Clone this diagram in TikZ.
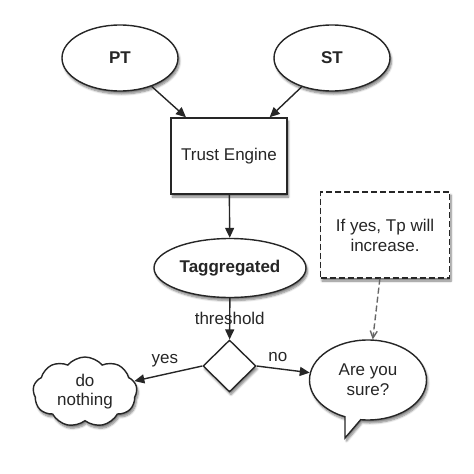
\documentclass[tikz,border=0pt]{standalone}
\usepackage{fontspec}
\setmainfont{Liberation Sans}
\usetikzlibrary{shapes.geometric,shapes.symbols,shapes.callouts,arrows.meta,shadows.blur}
\begin{document}
\begin{tikzpicture}[x=1pt,y=-1pt,
  every node/.style={font=\fontsize{17}{20}\selectfont, text=black!85},
  shd/.style={blur shadow={shadow blur steps=6, shadow xshift=1.5pt, shadow yshift=-3pt, shadow opacity=50}},
  base/.style={draw=black!85, line width=1.4pt, fill=white, shd},
  oval/.style={base, ellipse, inner sep=0pt},
  arr/.style={draw=black!85, line width=1.4pt, -{Triangle[length=10pt,width=9pt]}},
  darr/.style={draw=black!60, line width=1.4pt, dash pattern=on 6pt off 3pt, -{Straight Barb[length=7pt,width=7pt]}}
]
\useasboundingbox (0,0) rectangle (474,474);
\node[oval, minimum width=116pt, minimum height=66pt, font=\fontsize{17}{20}\selectfont\bfseries] (pt) at (120,58) {PT};
\node[oval, minimum width=116pt, minimum height=66pt, font=\fontsize{17}{20}\selectfont\bfseries] (st) at (332,58) {ST};
\node[base, rectangle, minimum width=116pt, minimum height=76pt] (te) at (229,156) {Trust Engine};
\node[oval, minimum width=152pt, minimum height=59pt, font=\fontsize{17}{20}\selectfont\bfseries] (tag) at (230,268) {Taggregated};
\node[base, diamond, minimum width=53pt, minimum height=52pt, inner sep=0pt] (dia) at (229.5,366) {};
\node[base, cloud, cloud puffs=9, cloud puff arc=100, cloud ignores aspect, minimum width=104pt, minimum height=70pt, inner xsep=0pt, inner ysep=-6pt, align=center] (cl) at (85,392) {do\\[-1pt]nothing};
\node[base, ellipse callout, callout absolute pointer={(345,438)}, callout pointer arc=16, minimum width=117pt, minimum height=80pt, inner sep=0pt, align=center] (bub) at (368,380) {Are you\\sure?};
\node[base, rectangle, dash pattern=on 6pt off 3pt, minimum width=129pt, minimum height=86pt, align=center] (note) at (385,235) {If yes, Tp will\\increase.};
\draw[arr] (pt) -- (te);
\draw[arr] (st) -- (te);
\draw[arr] (te) -- (tag);
\draw[arr] (tag) -- node[midway] (thr) {threshold} (dia);
\draw[arr] (dia.west) -- node[above, pos=0.55, yshift=3pt] (yes) {yes} (cl);
\draw[arr] (dia.east) -- node[above, pos=0.4, yshift=3pt] (no) {no} (bub);
\draw[darr] (note) -- (bub);
\end{tikzpicture}
\end{document}
